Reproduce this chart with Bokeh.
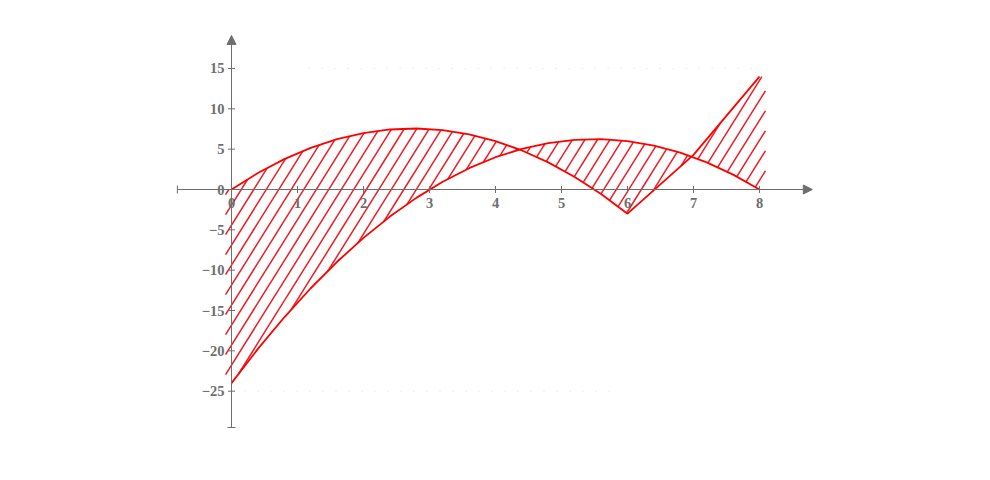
import numpy as np
from bokeh.plotting import figure
from bokeh.models import Arrow, NormalHead, TeeHead
from bokeh.core.properties import value
from bokeh.embed import file_html
from bokeh.resources import INLINE

# ---- data ----
upper_x = [0.0, 0.4, 0.8, 1.2, 1.6, 2.0, 2.4, 2.8, 3.2, 3.6, 4.0, 4.4, 4.8, 5.2, 5.6, 6.0, 7.0, 8.0]
upper_y = [0.0, 2.04, 3.76, 5.16, 6.24, 7.0, 7.44, 7.56, 7.36, 6.84, 6.0, 4.84, 3.36, 1.56, -0.56, -3.0, 4.3, 14.0]

lower_x = [0.0, 0.4, 0.8, 1.2, 1.6, 2.0, 2.4, 2.8, 3.2, 3.6, 4.0, 4.4, 4.8, 5.2, 5.6, 6.0, 6.4, 6.8, 7.2, 7.6, 8.0]
lower_y = [-24.0, -19.76, -15.84, -12.24, -8.96, -6.0, -3.36, -1.04, 0.96, 2.64, 4.0, 5.04, 5.76, 6.16, 6.24,
           6.0, 5.44, 4.56, 3.36, 1.84, 0.0]

x_ticks = [0, 1, 2, 3, 4, 5, 6, 7, 8]
x_tick_labels = ["0", "1", "2", "3", "4", "5", "6", "7", "8"]
y_ticks = [-25, -20, -15, -10, -5, 0, 5, 10, 15]
y_tick_labels = ["\u221225", "\u221220", "\u221215", "\u221210", "\u22125", "0", "5", "10", "15"]

x_axis_span = [-0.82, 8.8]
y_axis_span = [-29.5, 19.1]

# faint dotted guide lines visible in the reference
guide_top = {"y": 15, "x0": 1.17, "x1": 8.0}
guide_bottom = {"y": -25, "x0": 0.0, "x1": 5.82}

RED = "#ff0000"
HATCH = "#ee1c25"
AXIS = "#6e6e6e"
FONT = value("Liberation Serif")

# ---- figure ----
W, H = 970, 460
px_per_x = 66.0
px_per_y = 8.067
x0_px, y0_px = 231, 189
p = figure(width=W, height=H, output_backend="svg", toolbar_location=None,
           x_axis_type=None, y_axis_type=None,
           x_range=(-x0_px / px_per_x, (W - x0_px) / px_per_x),
           y_range=((y0_px - H) / px_per_y, y0_px / px_per_y),
           min_border=0)
p.outline_line_color = None
p.grid.visible = False
p.background_fill_color = "white"
p.border_fill_color = "white"

# faint guides
p.segment(x0=[guide_top["x0"]], y0=[guide_top["y"]], x1=[guide_top["x1"]], y1=[guide_top["y"]],
          line_color="#ffb6c8", line_width=1, line_dash="1 12", line_alpha=0.7)
p.segment(x0=[guide_bottom["x0"]], y0=[guide_bottom["y"]], x1=[guide_bottom["x1"]], y1=[guide_bottom["y"]],
          line_color="#cccccc", line_width=1, line_dash="1 12", line_alpha=0.7)

# ---- hatch lines between the two curves ----
xf = np.linspace(-0.09, 8.09, 16361)
af = np.interp(xf, upper_x, upper_y)
bf = np.interp(xf, lower_x, lower_y)
lo = np.minimum(af, bf)
hi = np.maximum(af, bf)
slope_px = 1.6
m = slope_px * px_per_x / px_per_y
step = 12.5 / px_per_x
phase = -2.7 / px_per_x
hx, hy = [], []
k = np.arange(-8, 60)
for c in phase + step * k:
    yl = m * (xf - c)
    inside = (yl >= lo) & (yl <= hi)
    if not inside.any():
        continue
    d = np.diff(np.concatenate([[0], inside.astype(int), [0]]))
    starts = np.where(d == 1)[0]
    ends = np.where(d == -1)[0] - 1
    for s, e in zip(starts, ends):
        if e > s:
            hx.append([xf[s], xf[e]])
            hy.append([yl[s], yl[e]])
p.multi_line(xs=hx, ys=hy, line_color=HATCH, line_width=1.5)

# ---- curves ----
p.line(upper_x, upper_y, line_color=RED, line_width=1.8)
p.line(lower_x, lower_y, line_color=RED, line_width=1.8)

# ---- axes ----
p.add_layout(Arrow(start=TeeHead(size=8, line_color=AXIS, line_width=1),
                   end=NormalHead(size=9, fill_color=AXIS, line_color=AXIS),
                   x_start=x_axis_span[0], y_start=0, x_end=x_axis_span[1], y_end=0,
                   line_color=AXIS, line_width=1))
p.add_layout(Arrow(start=TeeHead(size=8, line_color=AXIS, line_width=1),
                   end=NormalHead(size=9, fill_color=AXIS, line_color=AXIS),
                   x_start=0, y_start=y_axis_span[0], x_end=0, y_end=y_axis_span[1],
                   line_color=AXIS, line_width=1))

# ticks
p.scatter(x=x_ticks, y=[0] * len(x_ticks), marker="dash", size=7, angle=np.pi / 2,
          line_color=AXIS, line_width=1)
p.scatter(x=[0] * len(y_ticks), y=y_ticks, marker="dash", size=7,
          line_color=AXIS, line_width=1)

# tick labels
p.text(x=x_ticks, y=[0] * len(x_ticks), text=x_tick_labels, text_font=FONT,
       text_font_size="14.5px", text_font_style="bold", text_color=AXIS,
       text_align="center", text_baseline="top", y_offset=8)
p.text(x=[0] * len(y_ticks), y=y_ticks, text=y_tick_labels, text_font=FONT,
       text_font_size="14.5px", text_font_style="bold", text_color=AXIS,
       text_align="right", text_baseline="middle", x_offset=-7)

open("out.html", "w").write(file_html(p, INLINE))
